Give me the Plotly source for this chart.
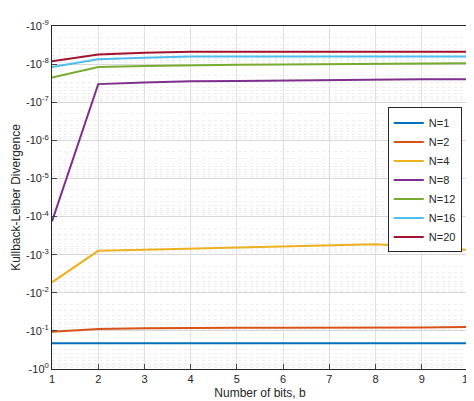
import plotly.graph_objects as go

bits = [1, 2, 3, 4, 5, 6, 7, 8, 9, 10]
# log10 of |KL divergence| (the values are negative)
n1 = [-0.675] * 10
n2 = [-0.98, -1.05, -1.07, -1.08, -1.08, -1.08, -1.08, -1.08, -1.09, -1.1]
n4 = [-2.275, -3.1, -3.13, -3.16, -3.19, -3.22, -3.25, -3.275, -3.2, -3.125]
n8 = [-3.875, -7.475, -7.52, -7.55, -7.56, -7.57, -7.58, -7.6, -7.6, -7.6]
n12 = [-7.65, -7.925, -7.95, -7.97, -7.98, -7.99, -8.0, -8.01, -8.02, -8.025]
n16 = [-7.925, -8.125, -8.17, -8.2, -8.2, -8.2, -8.2, -8.2, -8.2, -8.2]
n20 = [-8.075, -8.25, -8.3, -8.325, -8.325, -8.325, -8.325, -8.325, -8.325, -8.325]

series = [("N=1", n1, "#0072bd"), ("N=2", n2, "#d95319"), ("N=4", n4, "#edb120"),
          ("N=8", n8, "#7e2f8e"), ("N=12", n12, "#77ac30"), ("N=16", n16, "#4dbeee"),
          ("N=20", n20, "#a2142f")]

fig = go.Figure()
for name, vals, col in series:
    fig.add_trace(go.Scatter(x=bits, y=[10 ** v for v in vals], mode="lines", name=name,
                             line=dict(color=col, width=2)))

exps = list(range(-9, 1))
fig.update_layout(
    width=474, height=401, margin=dict(l=43, r=8, t=18, b=40),
    plot_bgcolor="white", paper_bgcolor="white",
    font=dict(family="Liberation Sans", size=11, color="#262626"),
    legend=dict(x=0.985, y=0.34, xanchor="right", yanchor="bottom", bordercolor="#262626",
                borderwidth=1, bgcolor="white", tracegroupgap=0, font=dict(size=11)),
    xaxis=dict(range=[1, 10], dtick=1, showgrid=True, gridcolor="#e0e0e0", mirror=True,
               showline=True, linecolor="#262626", ticks="inside", zeroline=False,
               title=dict(text="Number of bits, b", standoff=4, font=dict(size=12))),
    yaxis=dict(type="log", range=[0, -9], autorange=False, showgrid=True, gridcolor="#d8d8d8",
               tickvals=[10 ** e for e in exps],
               ticktext=["-10<sup>%d</sup>" % e for e in exps],
               minor=dict(showgrid=True, gridcolor="#eeeeee", griddash="dot", dtick="D1"),
               mirror=True, showline=True, linecolor="#262626", ticks="inside",
               title=dict(text="Kullback-Leiber Divergence", standoff=2, font=dict(size=12))),
)
fig.write_html("out.html")
